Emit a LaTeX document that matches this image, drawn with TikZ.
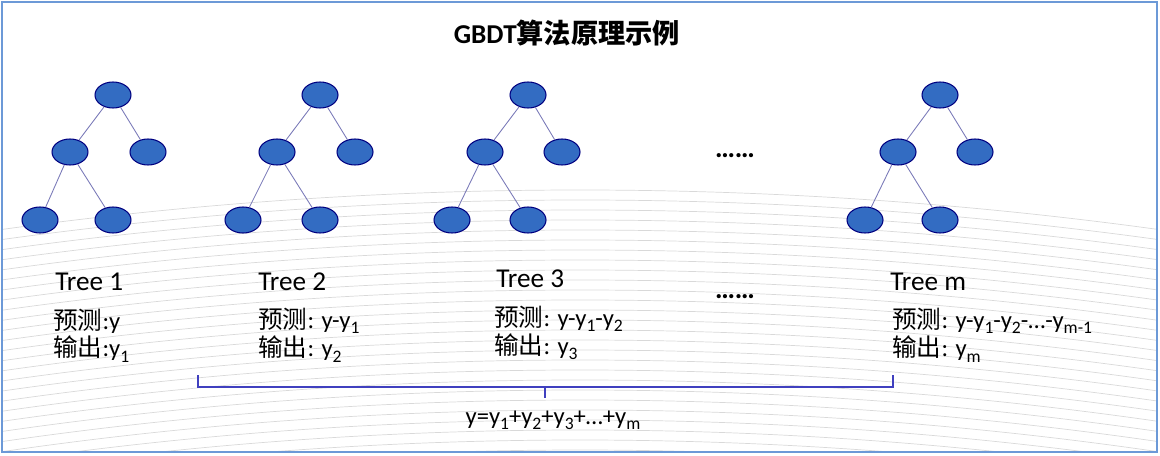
\documentclass[tikz,border=0pt]{standalone}
\usepackage{fontspec}
\usetikzlibrary{shapes.geometric}
\setmainfont{Carlito}
\newfontfamily\cjk{Noto Sans CJK SC}
\newcommand\sbs[1]{\raisebox{-0.45ex}{\fontsize{10}{11}\selectfont #1}}
\begin{document}
\begin{tikzpicture}[x=0.02cm,y=-0.02cm,
  nd/.style={ellipse,draw=blue!50!black,fill=blue!60!cyan!70!black!80,minimum width=36*0.02cm,minimum height=26*0.02cm,inner sep=0pt, line width=0.6pt},
  ed/.style={draw=gray!70!blue!80,line width=0.5pt},
  lab/.style={anchor=west,font=\fontsize{15.5}{17}\selectfont,inner sep=0pt},
  txt/.style={anchor=west,font=\fontsize{14}{15}\selectfont,inner sep=0pt}]
\useasboundingbox (0,0) rectangle (1160,456);
\begin{scope}
\clip (2,2) rectangle (1157,452);
\foreach \r in {4200,4190,...,3900} \draw[gray!30,line width=0.4pt] (580,4390) circle[radius=\r*0.02cm];
\end{scope}
\draw[cyan!50!blue!60,line width=1pt] (2,2) rectangle (1157,452);
\node[font=\bfseries\fontsize{15.5}{17}\selectfont] (title) at (567,33) {GBDT\cjk 算法原理示例};
\foreach \i/\rx/\lx/\rr/\la/\lb in {a/113/70/148/40/113, b/320/277/355/243/320, c/528/485/562/452/528, m/940/898/975/865/940}{
  \node[nd] (\i r) at (\rx,95) {};
  \node[nd] (\i l) at (\lx,152) {};
  \node[nd] (\i q) at (\rr,152) {};
  \node[nd] (\i x) at (\la,220) {};
  \node[nd] (\i y) at (\lb,220) {};
  \draw[ed] (\i r) -- (\i l); \draw[ed] (\i r) -- (\i q);
  \draw[ed] (\i l) -- (\i x); \draw[ed] (\i l) -- (\i y);
}
\node[font=\bfseries\fontsize{16}{17}\selectfont] (d1) at (735,156) {……};
\node[font=\bfseries\fontsize{16}{17}\selectfont] (d2) at (735,297) {……};
\node[lab] (t1) at (55,282) {Tree 1};
\node[lab] (t2) at (258,282) {Tree 2};
\node[lab] (t3) at (496,279) {Tree 3};
\node[lab] (tm) at (890,282) {Tree m};
\node[txt] (p1) at (53,321) {{\cjk 预测}:y};
\node[txt] (o1) at (53,349) {{\cjk 输出}:y\sbs{1}};
\node[txt] (p2) at (258,321) {{\cjk 预测}: y-y\sbs{1}};
\node[txt] (o2) at (258,349) {{\cjk 输出}: y\sbs{2}};
\node[txt] (p3) at (494,319) {{\cjk 预测}: y-y\sbs{1}-y\sbs{2}};
\node[txt] (o3) at (494,347) {{\cjk 输出}: y\sbs{3}};
\node[txt] (pm) at (892,321) {{\cjk 预测}: y-y\sbs{1}-y\sbs{2}-…-y\sbs{m-1}};
\node[txt] (om) at (892,349) {{\cjk 输出}: y\sbs{m}};
\coordinate (bl) at (198,375);
\coordinate (br) at (893,375);
\coordinate (bm) at (545,398);
\draw[blue!50!gray,line width=1.2pt] (bl) -- ++(0,12) -- (br |- 0,387) -- (br);
\draw[blue!50!gray,line width=1.2pt] (545,387) -- (bm);
\node[txt,anchor=center] (f) at (553,420) {y=y\sbs{1}+y\sbs{2}+y\sbs{3}+…+y\sbs{m}};
\end{tikzpicture}
\end{document}
